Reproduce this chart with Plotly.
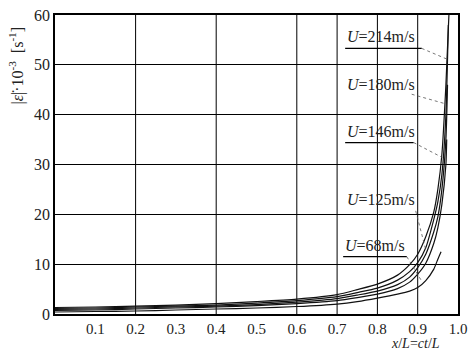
import plotly.graph_objects as go

# x/L sample positions shared by the curves
X_COMMON = [0.0, 0.1, 0.2, 0.3, 0.4, 0.5, 0.6, 0.7, 0.75, 0.8, 0.85, 0.88, 0.9, 0.92, 0.94, 0.95, 0.96, 0.97]

U214_X = X_COMMON + [0.978]
U214_Y = [1.3, 1.4, 1.6, 1.8, 2.1, 2.5, 3.0, 3.9, 4.9, 6.0, 7.8, 9.9, 12.0, 15.5, 20.5, 25.0, 32.0, 46.0, 61.0]

U180_X = X_COMMON + [0.976]
U180_Y = [1.1, 1.2, 1.4, 1.6, 1.8, 2.2, 2.7, 3.5, 4.3, 5.2, 6.8, 8.5, 10.3, 13.3, 19.0, 22.5, 28.0, 40.0, 58.0]

U146_X = X_COMMON + [0.974]
U146_Y = [0.9, 1.0, 1.2, 1.4, 1.6, 1.9, 2.4, 3.1, 3.8, 4.6, 5.9, 7.4, 9.3, 12.0, 16.5, 19.5, 25.0, 35.0, 46.0]

U125_X = X_COMMON + [0.972]
U125_Y = [0.7, 0.8, 1.0, 1.2, 1.4, 1.7, 2.1, 2.7, 3.3, 4.0, 5.1, 6.4, 8.0, 10.2, 14.2, 17.3, 22.0, 30.0, 35.0]

U68_X = [0.0, 0.1, 0.2, 0.3, 0.4, 0.5, 0.6, 0.7, 0.75, 0.8, 0.85, 0.88, 0.9, 0.92, 0.94, 0.95, 0.958]
U68_Y = [0.4, 0.5, 0.6, 0.8, 1.0, 1.2, 1.5, 2.0, 2.5, 3.2, 4.0, 4.6, 5.3, 6.7, 9.0, 11.0, 12.5]

SERIES = [("214", U214_X, U214_Y), ("180", U180_X, U180_Y), ("146", U146_X, U146_Y),
          ("125", U125_X, U125_Y), ("68", U68_X, U68_Y)]

X_TICKS = [0.1, 0.2, 0.3, 0.4, 0.5, 0.6, 0.7, 0.8, 0.9, 1.0]
X_TICK_LABELS = ["0.1", "0.2", "0.3", "0.4", "0.5", "0.6", "0.7", "0.8", "0.9", "1.0"]
Y_TICKS = [0, 10, 20, 30, 40, 50, 60]
X_GRID = [0.2, 0.4, 0.6, 0.7, 0.8, 0.9]

# label texts with anchor (x, y), underline (x0, x1, y) or None, pointer (x0,y0,x1,y1)
LABELS = [
    ("<i>U</i>=214m/s", 0.72, 55.7, (0.72, 0.91, 53.3), (0.91, 53.3, 0.971, 51.2)),
    ("<i>U</i>=180m/s", 0.72, 46.0, None, (0.885, 44.1, 0.968, 42.2)),
    ("<i>U</i>=146m/s", 0.72, 36.7, (0.72, 0.89, 34.4), (0.89, 34.4, 0.961, 31.4)),
    ("<i>U</i>=125m/s", 0.72, 23.0, None, (0.895, 20.7, 0.92, 12.9)),
    ("<i>U</i>=68m/s", 0.715, 13.7, (0.715, 0.873, 11.5), (0.873, 11.5, 0.91, 6.6)),
]

FONT = "Liberation Serif"

fig = go.Figure()
for name, xs, ys in SERIES:
    fig.add_trace(go.Scatter(x=xs, y=ys, mode="lines", name=name,
                             line=dict(color="#111", width=1.2, shape="spline", smoothing=0.6),
                             showlegend=False, cliponaxis=True))

for gx in X_GRID:
    fig.add_shape(type="line", xref="x", yref="paper", x0=gx, x1=gx, y0=0, y1=1,
                  line=dict(color="black", width=1), layer="below")

for text, tx, ty, ul, ptr in LABELS:
    fig.add_annotation(x=tx, y=ty, text=text, showarrow=False, xanchor="left", yanchor="middle",
                       font=dict(family=FONT, size=16, color="#222"))
    if ul:
        fig.add_shape(type="line", x0=ul[0], x1=ul[1], y0=ul[2], y1=ul[2],
                      line=dict(color="black", width=1.3))
    fig.add_shape(type="line", x0=ptr[0], y0=ptr[1], x1=ptr[2], y1=ptr[3],
                  line=dict(color="#555", width=0.8, dash="dot"))

fig.add_annotation(xref="paper", yref="paper", x=-0.095, y=0.83, textangle=-90,
                   text="|<i>ε̇</i>|·10<sup>-3</sup>  [s<sup>-1</sup>]", showarrow=False,
                   xanchor="center", yanchor="middle", font=dict(family=FONT, size=16, color="#222"))
fig.add_annotation(xref="paper", yref="paper", x=0.895, y=-0.1,
                   text="<i>x</i>/<i>L</i>=<i>ct</i>/<i>L</i>", showarrow=False,
                   xanchor="center", yanchor="middle", font=dict(family=FONT, size=14, color="#222"))

fig.update_xaxes(range=[0, 1.0], tickvals=X_TICKS, ticktext=X_TICK_LABELS, showgrid=False,
                 showline=True, linecolor="black", linewidth=1.5, mirror=True, ticks="",
                 zeroline=False, tickfont=dict(family=FONT, size=15, color="#222"))
fig.update_yaxes(range=[0, 60], tickvals=Y_TICKS, showgrid=True, gridcolor="black", gridwidth=1,
                 showline=True, linecolor="black", linewidth=1.5, mirror=True, ticks="",
                 zeroline=False, tickfont=dict(family=FONT, size=16, color="#222"))

fig.update_layout(width=474, height=353, margin=dict(l=55, r=11, t=7, b=39),
                  plot_bgcolor="white", paper_bgcolor="white")

fig.write_html("out.html")
